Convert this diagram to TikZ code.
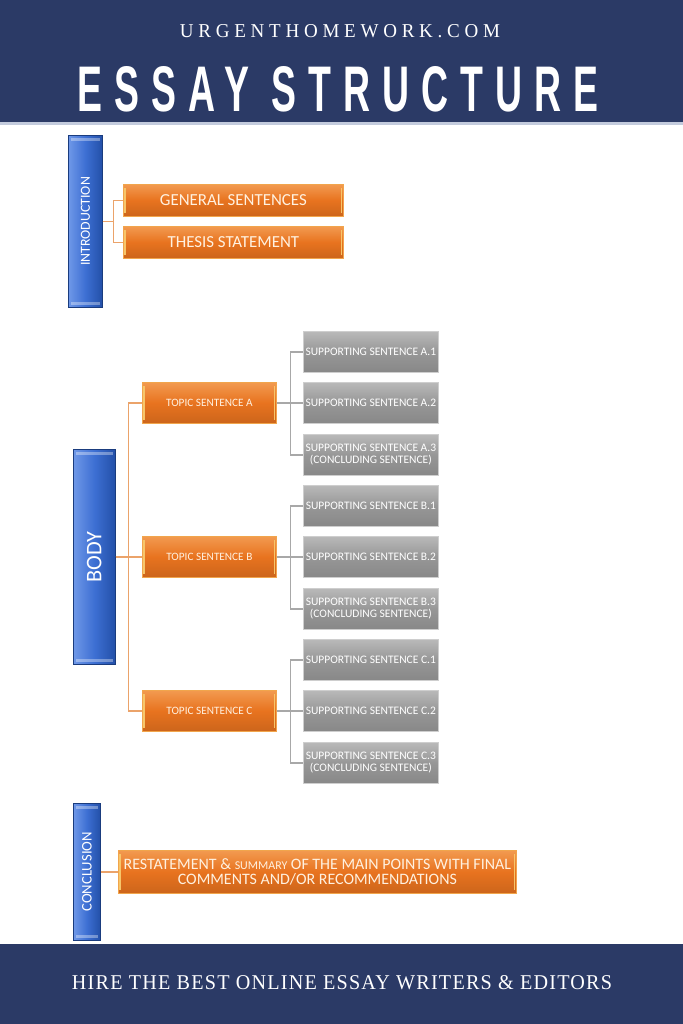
\documentclass[tikz,border=0pt]{standalone}
\usepackage{fontspec}
\usepackage{graphicx}
\setmainfont{Carlito}
\newfontfamily\headfont[LetterSpace=32]{Liberation Sans}
\newfontfamily\siteserif[LetterSpace=25]{Liberation Serif}
\newfontfamily\footserif[LetterSpace=6]{Liberation Serif}
\usetikzlibrary{calc}

\definecolor{navy}{HTML}{2B3A66}
\definecolor{bandline}{HTML}{C3CBDD}
\definecolor{orangebox}{HTML}{E8731F}
\definecolor{orangetop}{HTML}{F29A50}
\definecolor{orangeedge}{HTML}{F7C66A}
\definecolor{orangeline}{HTML}{EBA36A}
\definecolor{greybox}{HTML}{979797}
\definecolor{greytop}{HTML}{B9B9B9}
\definecolor{greyline}{HTML}{A8A8A8}
\definecolor{bluebar}{HTML}{3D6FD3}
\definecolor{bluedark}{HTML}{2350A8}
\definecolor{bluelight}{HTML}{6F98E8}
\definecolor{boxtext}{HTML}{FFF1E0}

\tikzset{
  sized/.style 2 args={anchor=north west, inner sep=0pt,
    minimum width=#1*0.03cm, minimum height=#2*0.03cm},
  orangebox/.style={draw=orangeedge!60!orangebox, line width=0.6pt,
    top color=orangetop, bottom color=orangebox!88!black, middle color=orangebox,
    text=boxtext, align=center,
    path picture={
      \fill[orangeedge] ($(path picture bounding box.north west)+(0.8pt,-3pt)$)
        rectangle ($(path picture bounding box.south west)+(2.2pt,3pt)$);
      \fill[orangeedge] ($(path picture bounding box.north east)+(-0.8pt,-3pt)$)
        rectangle ($(path picture bounding box.south east)+(-2.2pt,3pt)$);
    }},
  greybox/.style={draw=greytop!70!white, line width=0.6pt,
    top color=greytop, bottom color=greybox!90!black, middle color=greybox,
    text=white, align=center, font=\fontsize{9.8}{10}\selectfont},
  bluebar/.style={draw=bluedark!75!black, line width=0.6pt,
    left color=bluelight, right color=bluedark, middle color=bluebar,
    text=white,
    path picture={
      \fill[white, opacity=0.35] ($(path picture bounding box.north west)+(2pt,-2pt)$)
        rectangle ($(path picture bounding box.north east)+(-2pt,-5pt)$);
      \fill[white, opacity=0.35] ($(path picture bounding box.south west)+(2pt,2pt)$)
        rectangle ($(path picture bounding box.south east)+(-2pt,5pt)$);
    }},
  orangelink/.style={draw=orangeline, line width=1.3pt},
  greylink/.style={draw=greyline, line width=1.1pt},
}

\begin{document}
\begin{tikzpicture}[x=0.03cm, y=-0.03cm]
  \useasboundingbox (0,0) rectangle (683,1024);
  \fill[white] (0,0) rectangle (683,1024);

  % header and footer bands
  \fill[navy] (0,0) rectangle (683,122);
  \fill[bandline] (0,122) rectangle (683,125);
  \node[text=white, inner sep=0pt] (site) at (340,31)
    {\resizebox{9.6cm}{0.39cm}{\siteserif URGENTHOMEWORK.COM}};
  \node[text=white, inner sep=0pt] (title) at (338,89.5)
    {\resizebox{15.6cm}{1.35cm}{\headfont\bfseries ESSAY STRUCTURE}};
  \fill[navy] (0,944) rectangle (683,1024);
  \node[text=white, inner sep=0pt] (footer) at (342,983)
    {\resizebox{16.2cm}{0.42cm}{\footserif HIRE THE BEST ONLINE ESSAY WRITERS \& EDITORS}};

  % introduction
  \node[bluebar, sized={34}{172}] (intro) at (68,135)
    {\rotatebox{90}{\fontsize{11.8}{12}\selectfont INTRODUCTION}};
  \node[orangebox, sized={220}{32}, font=\fontsize{14.4}{15}\selectfont] (general) at (123,184)
    {GENERAL SENTENCES};
  \node[orangebox, sized={220}{32}, font=\fontsize{14.4}{15}\selectfont] (thesis) at (123,226)
    {THESIS STATEMENT};
  \draw[orangelink] (intro.east) -- ++(11,0) |- (general.west);
  \draw[orangelink] (intro.east) -- ++(11,0) |- (thesis.west);

  % body
  \node[bluebar, sized={42}{215}] (body) at (73,449)
    {\rotatebox{90}{\fontsize{19}{20}\selectfont BODY}};
  \foreach \t/\y in {A/382,B/536,C/690} {
    \node[orangebox, sized={134}{41}, font=\fontsize{9.6}{10}\selectfont] (topic\t) at (142,\y)
      {TOPIC SENTENCE \t};
    \draw[orangelink] (body.east) -- ++(13,0) |- (topic\t.west);
    \foreach \k/\d/\extra in {1/-51/{},2/0/{},3/52/{\\(CONCLUDING SENTENCE)}} {
      \node[greybox, sized={135}{41}] (sup\t\k) at (303,{\y+\d})
        {SUPPORTING SENTENCE \t.\k\extra};
      \draw[greylink] (topic\t.east) -- ++(14,0) |- (sup\t\k.west);
    }
  }

  % conclusion
  \node[bluebar, sized={27}{137}] (concl) at (73,803)
    {\rotatebox{90}{\fontsize{12.5}{13}\selectfont CONCLUSION}};
  \node[orangebox, sized={398}{43}, font=\fontsize{13.6}{13}\selectfont] (restate) at (118,850)
    {RESTATEMENT \& {\fontsize{10.2}{10}\selectfont SUMMARY} OF THE MAIN POINTS WITH FINAL\\
     COMMENTS AND/OR RECOMMENDATIONS};
  \draw[orangelink] (concl.east) -- (restate.west);
\end{tikzpicture}
\end{document}
